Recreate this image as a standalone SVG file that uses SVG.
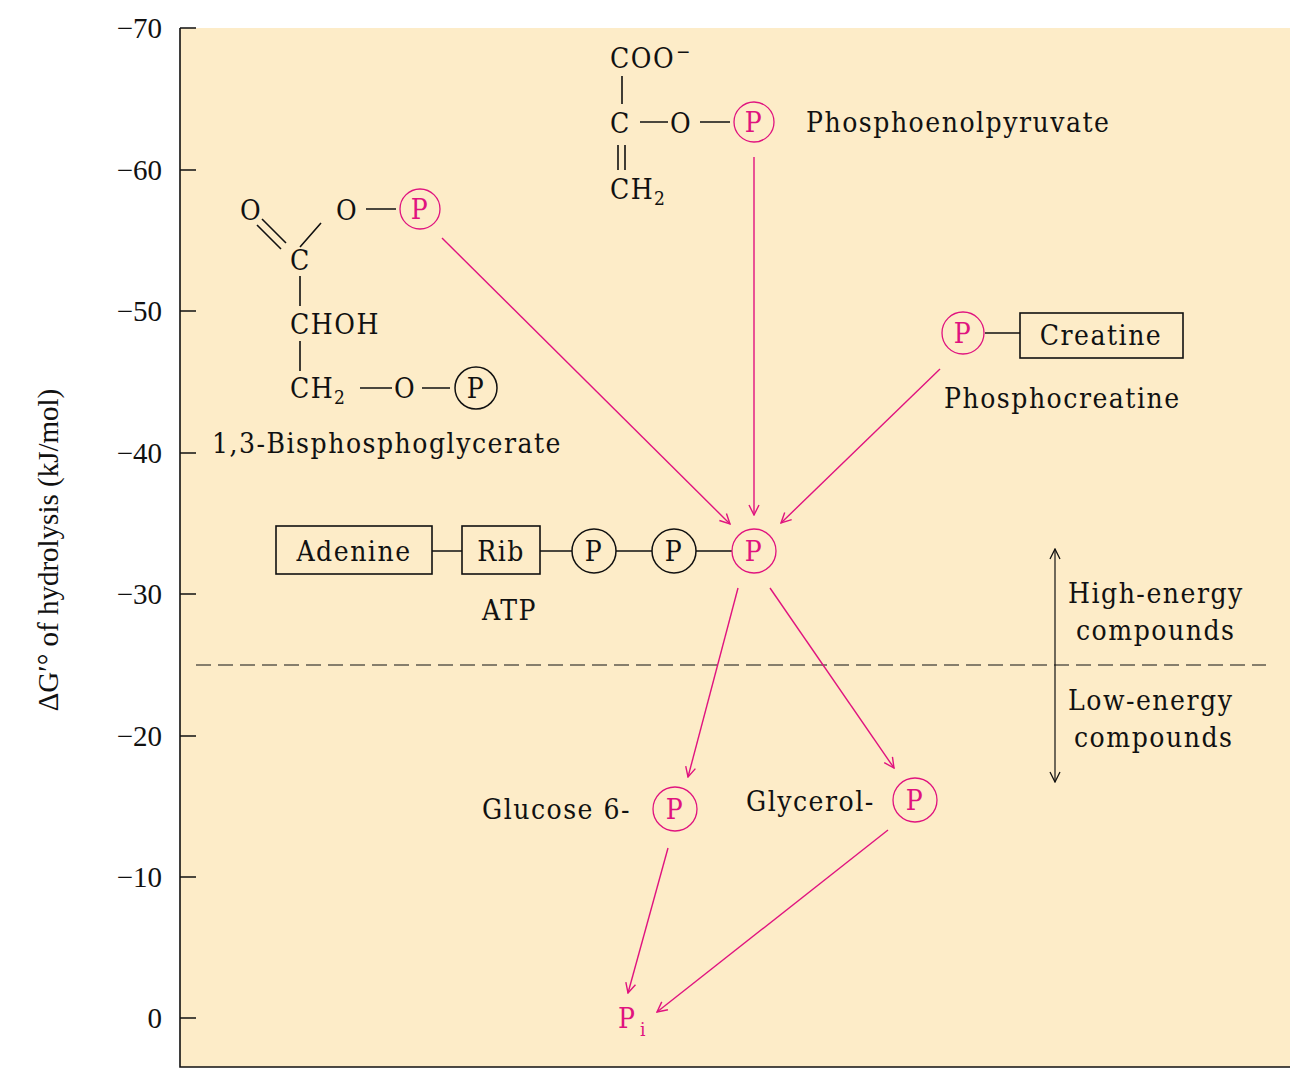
<svg xmlns="http://www.w3.org/2000/svg" width="1315" height="1080" viewBox="0 0 1315 1080">
<defs>
<style>
text{font-family:"DejaVu Serif Condensed","DejaVu Serif","Liberation Serif",serif;font-size:28px;fill:#111;letter-spacing:1.5px}
.m{fill:#e0137f}
.ax{font-family:"Liberation Serif",serif;font-size:29px;letter-spacing:0}
.tk{text-anchor:end;font-family:"Liberation Serif",serif;font-size:29px;letter-spacing:0}
.b{stroke:#111;stroke-width:1.6;fill:none}
.mc{stroke:#e0137f;stroke-width:1.4;fill:none}
.pm{fill:none;stroke:#e0137f;stroke-width:1.3}
.pb{fill:none;stroke:#111;stroke-width:1.5}
.c{text-anchor:middle}
.s{font-size:19px}
</style>
<marker id="ah" viewBox="0 0 12 12" refX="11" refY="6" markerWidth="12" markerHeight="12" markerUnits="userSpaceOnUse" orient="auto"><path d="M1,1 L11,6 L1,11" fill="none" stroke="#e0137f" stroke-width="1.4"/></marker>
<marker id="bk" viewBox="0 0 12 12" refX="11" refY="6" markerWidth="12" markerHeight="12" markerUnits="userSpaceOnUse" orient="auto-start-reverse"><path d="M1,1 L11,6 L1,11" fill="none" stroke="#111" stroke-width="1.3"/></marker>
</defs>
<rect width="1315" height="1080" fill="#fff"/>
<rect x="180" y="28" width="1110" height="1039" fill="#fdecc8"/>
<g id="axis">
<path class="b" d="M180,28 V1067 H1290 M180,28 H196 M180,170 H196 M180,311 H196 M180,453 H196 M180,594 H196 M180,736 H196 M180,877 H196 M180,1018 H196"/>
<text class="tk" x="162" y="38">−70</text>
<text class="tk" x="162" y="180">−60</text>
<text class="tk" x="162" y="321">−50</text>
<text class="tk" x="162" y="463">−40</text>
<text class="tk" x="162" y="604">−30</text>
<text class="tk" x="162" y="746">−20</text>
<text class="tk" x="162" y="887">−10</text>
<text class="tk" x="162" y="1028">0</text>
<text class="ax c" transform="translate(58,550) rotate(-90)">ΔG′° of hydrolysis (kJ/mol)</text>
</g>
<g id="divider">
<line x1="196" y1="665" x2="1266" y2="665" stroke="#111" stroke-width="1.2" stroke-dasharray="15,7"/>
<line x1="1055" y1="549" x2="1055" y2="782" stroke="#111" stroke-width="1.2" marker-start="url(#bk)" marker-end="url(#bk)"/>
<text x="1068" y="603">High-energy</text>
<text x="1076" y="640">compounds</text>
<text x="1068" y="710">Low-energy</text>
<text x="1074" y="747">compounds</text>
</g>
<g id="pep">
<text x="610" y="68">COO</text><text x="676" y="58" class="s">−</text>
<path class="b" d="M622,76 V104 M640,122 H668 M700,122 H730 M618,145 V170 M625,145 V170"/>
<text x="610" y="133">C</text><text x="670" y="133">O</text>
<circle class="pm" cx="754" cy="122" r="20"/><text class="m c" x="754" y="132">P</text>
<text x="610" y="199">CH</text><text x="654" y="205" class="s">2</text>
<text x="806" y="132">Phosphoenolpyruvate</text>
</g>
<g id="bpg">
<text x="240" y="220">O</text><text x="336" y="220">O</text>
<path class="b" d="M366,209 H396 M257,225 L281,249 M262,219 L286,243 M300,247 L321,223 M300,276 V306 M300,341 V371 M360,388 H392 M422,388 H450"/>
<circle class="pm" cx="420" cy="209" r="20"/><text class="m c" x="420" y="219">P</text>
<text x="290" y="270">C</text>
<text x="290" y="334">CHOH</text>
<text x="290" y="398">CH</text><text x="334" y="404" class="s">2</text>
<text x="394" y="398">O</text>
<circle class="pb" cx="476" cy="388" r="21"/><text class="c" x="476" y="398">P</text>
<text x="212" y="453">1,3-Bisphosphoglycerate</text>
</g>
<g id="phosphocreatine">
<circle class="pm" cx="963" cy="333" r="21"/><text class="m c" x="963" y="343">P</text>
<path class="b" d="M985,333 H1020"/>
<rect class="b" x="1020" y="313" width="163" height="45"/>
<text class="c" x="1101" y="345">Creatine</text>
<text x="944" y="408">Phosphocreatine</text>
</g>
<g id="atp">
<rect class="b" x="276" y="526" width="156" height="48"/><text class="c" x="354" y="561">Adenine</text>
<rect class="b" x="462" y="526" width="78" height="48"/><text class="c" x="501" y="561">Rib</text>
<path class="b" d="M432,551 H462 M540,551 H572 M616,551 H652 M696,551 H732"/>
<circle class="pb" cx="594" cy="551" r="22"/><text class="c" x="594" y="561">P</text>
<circle class="pb" cx="674" cy="551" r="22"/><text class="c" x="674" y="561">P</text>
<circle class="pm" cx="754" cy="551" r="22"/><text class="m c" x="754" y="561">P</text>
<text x="482" y="620">ATP</text>
</g>
<g id="g6p">
<text x="482" y="819">Glucose 6-</text>
<circle class="pm" cx="675" cy="809" r="22"/><text class="m c" x="675" y="819">P</text>
</g>
<g id="g3p">
<text x="746" y="811">Glycerol-</text>
<circle class="pm" cx="915" cy="800" r="22"/><text class="m c" x="915" y="810">P</text>
</g>
<g id="pi">
<text class="m" x="618" y="1028">P</text><text class="m s" x="640" y="1036">i</text>
</g>
<g id="connectors">
<line class="mc" x1="442" y1="238" x2="730" y2="524" marker-end="url(#ah)"/>
<line class="mc" x1="754" y1="157" x2="754" y2="515" marker-end="url(#ah)"/>
<line class="mc" x1="940" y1="369" x2="781" y2="523" marker-end="url(#ah)"/>
<line class="mc" x1="738" y1="588" x2="688" y2="777" marker-end="url(#ah)"/>
<line class="mc" x1="770" y1="588" x2="894" y2="768" marker-end="url(#ah)"/>
<line class="mc" x1="668" y1="848" x2="628" y2="993" marker-end="url(#ah)"/>
<line class="mc" x1="888" y1="830" x2="657" y2="1012" marker-end="url(#ah)"/>
</g>
</svg>
